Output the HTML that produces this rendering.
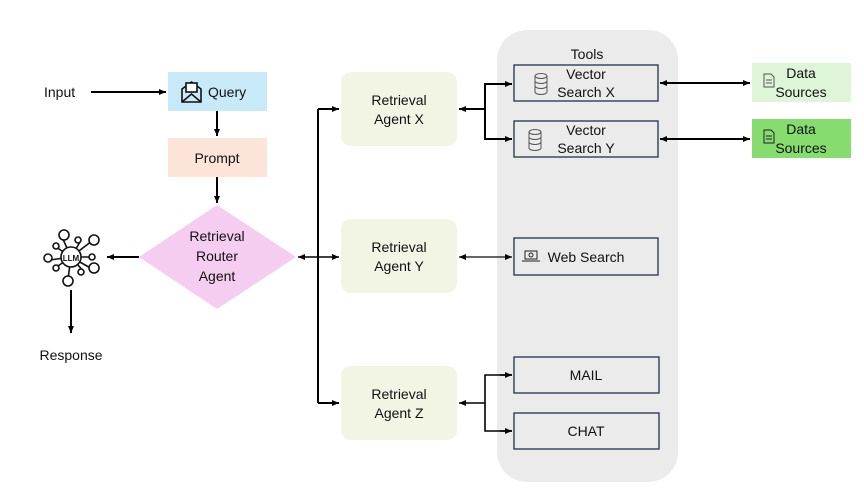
<!DOCTYPE html>
<html><head><meta charset="utf-8"><style>
html,body{margin:0;padding:0;background:#fff;}
svg{display:block;font-family:"Liberation Sans",Arial,sans-serif;}
</style></head><body>
<svg width="864" height="502" viewBox="0 0 864 502" xmlns="http://www.w3.org/2000/svg">
<defs>
<marker id="a" markerWidth="8" markerHeight="8" refX="7" refY="4" orient="auto" markerUnits="userSpaceOnUse"><path d="M0,1 L7,4 L0,7 z" fill="#000"/></marker>
<marker id="b" markerWidth="8" markerHeight="8" refX="1" refY="4" orient="auto" markerUnits="userSpaceOnUse"><path d="M8,1 L1,4 L8,7 z" fill="#000"/></marker>
</defs>
<!-- tools panel -->
<rect x="497" y="30" width="181" height="452" rx="30" fill="#ebebeb"/>
<text x="587" y="59" font-size="14" text-anchor="middle" fill="#111">Tools</text>

<!-- input -> query -->
<text x="44" y="97" font-size="14" fill="#111">Input</text>
<line x1="91" y1="92" x2="166" y2="92" stroke="#000" stroke-width="2" marker-end="url(#a)"/>
<rect x="168" y="72" width="99" height="39" fill="#c7e9f8"/>
<g stroke="#111" stroke-width="1.6" fill="none">
<path d="M182,89 L182,102 L201,102 L201,89 L191.5,82 Z"/><path d="M182,102 L191.5,94 L201,102"/><rect x="186" y="83" width="11" height="9" fill="#fff"/>
</g>
<text x="208" y="97" font-size="14" fill="#111">Query</text>
<line x1="217" y1="111" x2="217" y2="136" stroke="#000" stroke-width="2" marker-end="url(#a)"/>
<rect x="168" y="138" width="99" height="39" fill="#fde4d8"/>
<text x="217" y="163" font-size="14" text-anchor="middle" fill="#111">Prompt</text>
<line x1="217" y1="177" x2="217" y2="203" stroke="#000" stroke-width="2" marker-end="url(#a)"/>
<polygon points="217,205 296,257 217,309 139,257" fill="#f5cdf0"/>
<text font-size="14" text-anchor="middle" fill="#111"><tspan x="217" y="241">Retrieval</tspan><tspan x="217" y="261">Router</tspan><tspan x="217" y="281">Agent</tspan></text>
<line x1="139" y1="257" x2="107" y2="257" stroke="#000" stroke-width="2" marker-end="url(#a)"/>

<!-- LLM icon -->
<g stroke="#111" stroke-width="1.6" fill="#fff">
<line x1="71" y1="257" x2="62" y2="237"/><line x1="71" y1="257" x2="80" y2="242"/><line x1="71" y1="257" x2="92" y2="241"/><line x1="71" y1="257" x2="50" y2="260"/><line x1="71" y1="257" x2="92" y2="257"/><line x1="71" y1="257" x2="94" y2="270"/><line x1="71" y1="257" x2="68" y2="279"/><line x1="71" y1="257" x2="84" y2="272"/><line x1="71" y1="257" x2="55" y2="268"/><line x1="71" y1="257" x2="56" y2="247"/>
<circle cx="64" cy="235" r="5"/><circle cx="78" cy="240" r="3"/><circle cx="94" cy="240" r="5"/><circle cx="48" cy="258" r="4"/><circle cx="92" cy="257" r="3"/><circle cx="94" cy="268" r="5"/><circle cx="68" cy="281" r="5"/><circle cx="81" cy="272" r="3"/><circle cx="56" cy="268" r="3"/><circle cx="56" cy="246" r="3"/>
<circle cx="71" cy="257" r="10"/>
</g>
<text x="71" y="261" font-size="8" font-weight="bold" text-anchor="middle" fill="#111">LLM</text>
<line x1="71" y1="290" x2="71" y2="333" stroke="#000" stroke-width="2" marker-end="url(#a)"/>
<text x="71" y="360" font-size="14" text-anchor="middle" fill="#111">Response</text>

<!-- router to agents -->
<line x1="318" y1="109" x2="318" y2="403" stroke="#000" stroke-width="2"/>
<line x1="298" y1="257" x2="339" y2="257" stroke="#000" stroke-width="1.6" marker-start="url(#b)" marker-end="url(#a)"/>
<line x1="318" y1="109" x2="339" y2="109" stroke="#000" stroke-width="2" marker-end="url(#a)"/>
<line x1="318" y1="403" x2="339" y2="403" stroke="#000" stroke-width="2" marker-end="url(#a)"/>

<g fill="#f2f4e4">
<rect x="341" y="72" width="116" height="74" rx="10"/>
<rect x="341" y="219" width="116" height="74" rx="10"/>
<rect x="341" y="366" width="116" height="74" rx="10"/>
</g>
<g font-size="14" text-anchor="middle" fill="#111">
<text><tspan x="399" y="105">Retrieval</tspan><tspan x="399" y="124">Agent X</tspan></text>
<text><tspan x="399" y="252">Retrieval</tspan><tspan x="399" y="271">Agent Y</tspan></text>
<text><tspan x="399" y="399">Retrieval</tspan><tspan x="399" y="418">Agent Z</tspan></text>
</g>

<!-- agent X to vectors -->
<line x1="459" y1="109" x2="485" y2="109" stroke="#000" stroke-width="2" marker-start="url(#b)"/>
<path d="M512,84 L485,84 L485,139 L512,139" fill="none" stroke="#000" stroke-width="2"/>
<line x1="500" y1="84" x2="512" y2="84" stroke="#000" stroke-width="2" marker-end="url(#a)"/>
<line x1="500" y1="139" x2="512" y2="139" stroke="#000" stroke-width="2" marker-end="url(#a)"/>
<!-- agent Y to web -->
<line x1="459" y1="257" x2="512" y2="257" stroke="#333" stroke-width="1.4" marker-start="url(#b)" marker-end="url(#a)"/>
<!-- agent Z -->
<line x1="459" y1="403" x2="485" y2="403" stroke="#000" stroke-width="1.6" marker-start="url(#b)"/>
<path d="M512,375 L485,375 L485,431 L512,431" fill="none" stroke="#000" stroke-width="1.6"/>
<line x1="500" y1="375" x2="512" y2="375" stroke="#000" stroke-width="1.6" marker-end="url(#a)"/>
<line x1="500" y1="431" x2="512" y2="431" stroke="#000" stroke-width="1.6" marker-end="url(#a)"/>

<!-- tool boxes -->
<g fill="#ebebeb" stroke="#22304a" stroke-width="1.3">
<rect x="514" y="65" width="144" height="36"/>
<rect x="514" y="121" width="144" height="36"/>
<rect x="514" y="238" width="144" height="37"/>
<rect x="514" y="357" width="145" height="36"/>
<rect x="514" y="413" width="145" height="36"/>
</g>
<g fill="none" stroke="#555" stroke-width="1">
<ellipse cx="541" cy="76" rx="6" ry="2.5"/><path d="M535,76 V92 A6,2.5 0 0 0 547,92 V76 M535,81 A6,2.5 0 0 0 547,81 M535,86 A6,2.5 0 0 0 547,86"/>
<ellipse cx="535" cy="132" rx="6" ry="2.5"/><path d="M529,132 V148 A6,2.5 0 0 0 541,148 V132 M529,137 A6,2.5 0 0 0 541,137 M529,142 A6,2.5 0 0 0 541,142"/>
<rect x="525" y="251" width="12" height="8" stroke="#222"/><line x1="522" y1="261" x2="540" y2="261" stroke="#222"/><circle cx="531" cy="255" r="2" stroke="#222"/>
</g>
<g font-size="14" text-anchor="middle" fill="#111">
<text><tspan x="586" y="79">Vector</tspan><tspan x="586" y="97">Search X</tspan></text>
<text><tspan x="586" y="135">Vector</tspan><tspan x="586" y="153">Search Y</tspan></text>
<text x="586" y="262">Web Search</text>
<text x="586" y="380">MAIL</text>
<text x="586" y="436">CHAT</text>
</g>

<!-- to data sources -->
<line x1="660" y1="83" x2="750" y2="83" stroke="#000" stroke-width="2" marker-start="url(#b)" marker-end="url(#a)"/>
<line x1="660" y1="139" x2="750" y2="139" stroke="#000" stroke-width="2" marker-start="url(#b)" marker-end="url(#a)"/>
<rect x="752" y="63" width="99" height="39" fill="#dff5d8"/>
<rect x="752" y="119" width="99" height="39" fill="#86dc6e"/>
<g fill="none" stroke="#555" stroke-width="1">
<path d="M764,74 H771 L774,77 V87 H764 Z M766,80 H772 M766,83 H772"/>
<path d="M764,130 H771 L774,133 V143 H764 Z M766,136 H772 M766,139 H772" stroke="#222"/>
</g>
<g font-size="14" text-anchor="middle" fill="#111">
<text><tspan x="801" y="78">Data</tspan><tspan x="801" y="97">Sources</tspan></text>
<text><tspan x="801" y="134">Data</tspan><tspan x="801" y="153">Sources</tspan></text>
</g>
</svg>
</body></html>
